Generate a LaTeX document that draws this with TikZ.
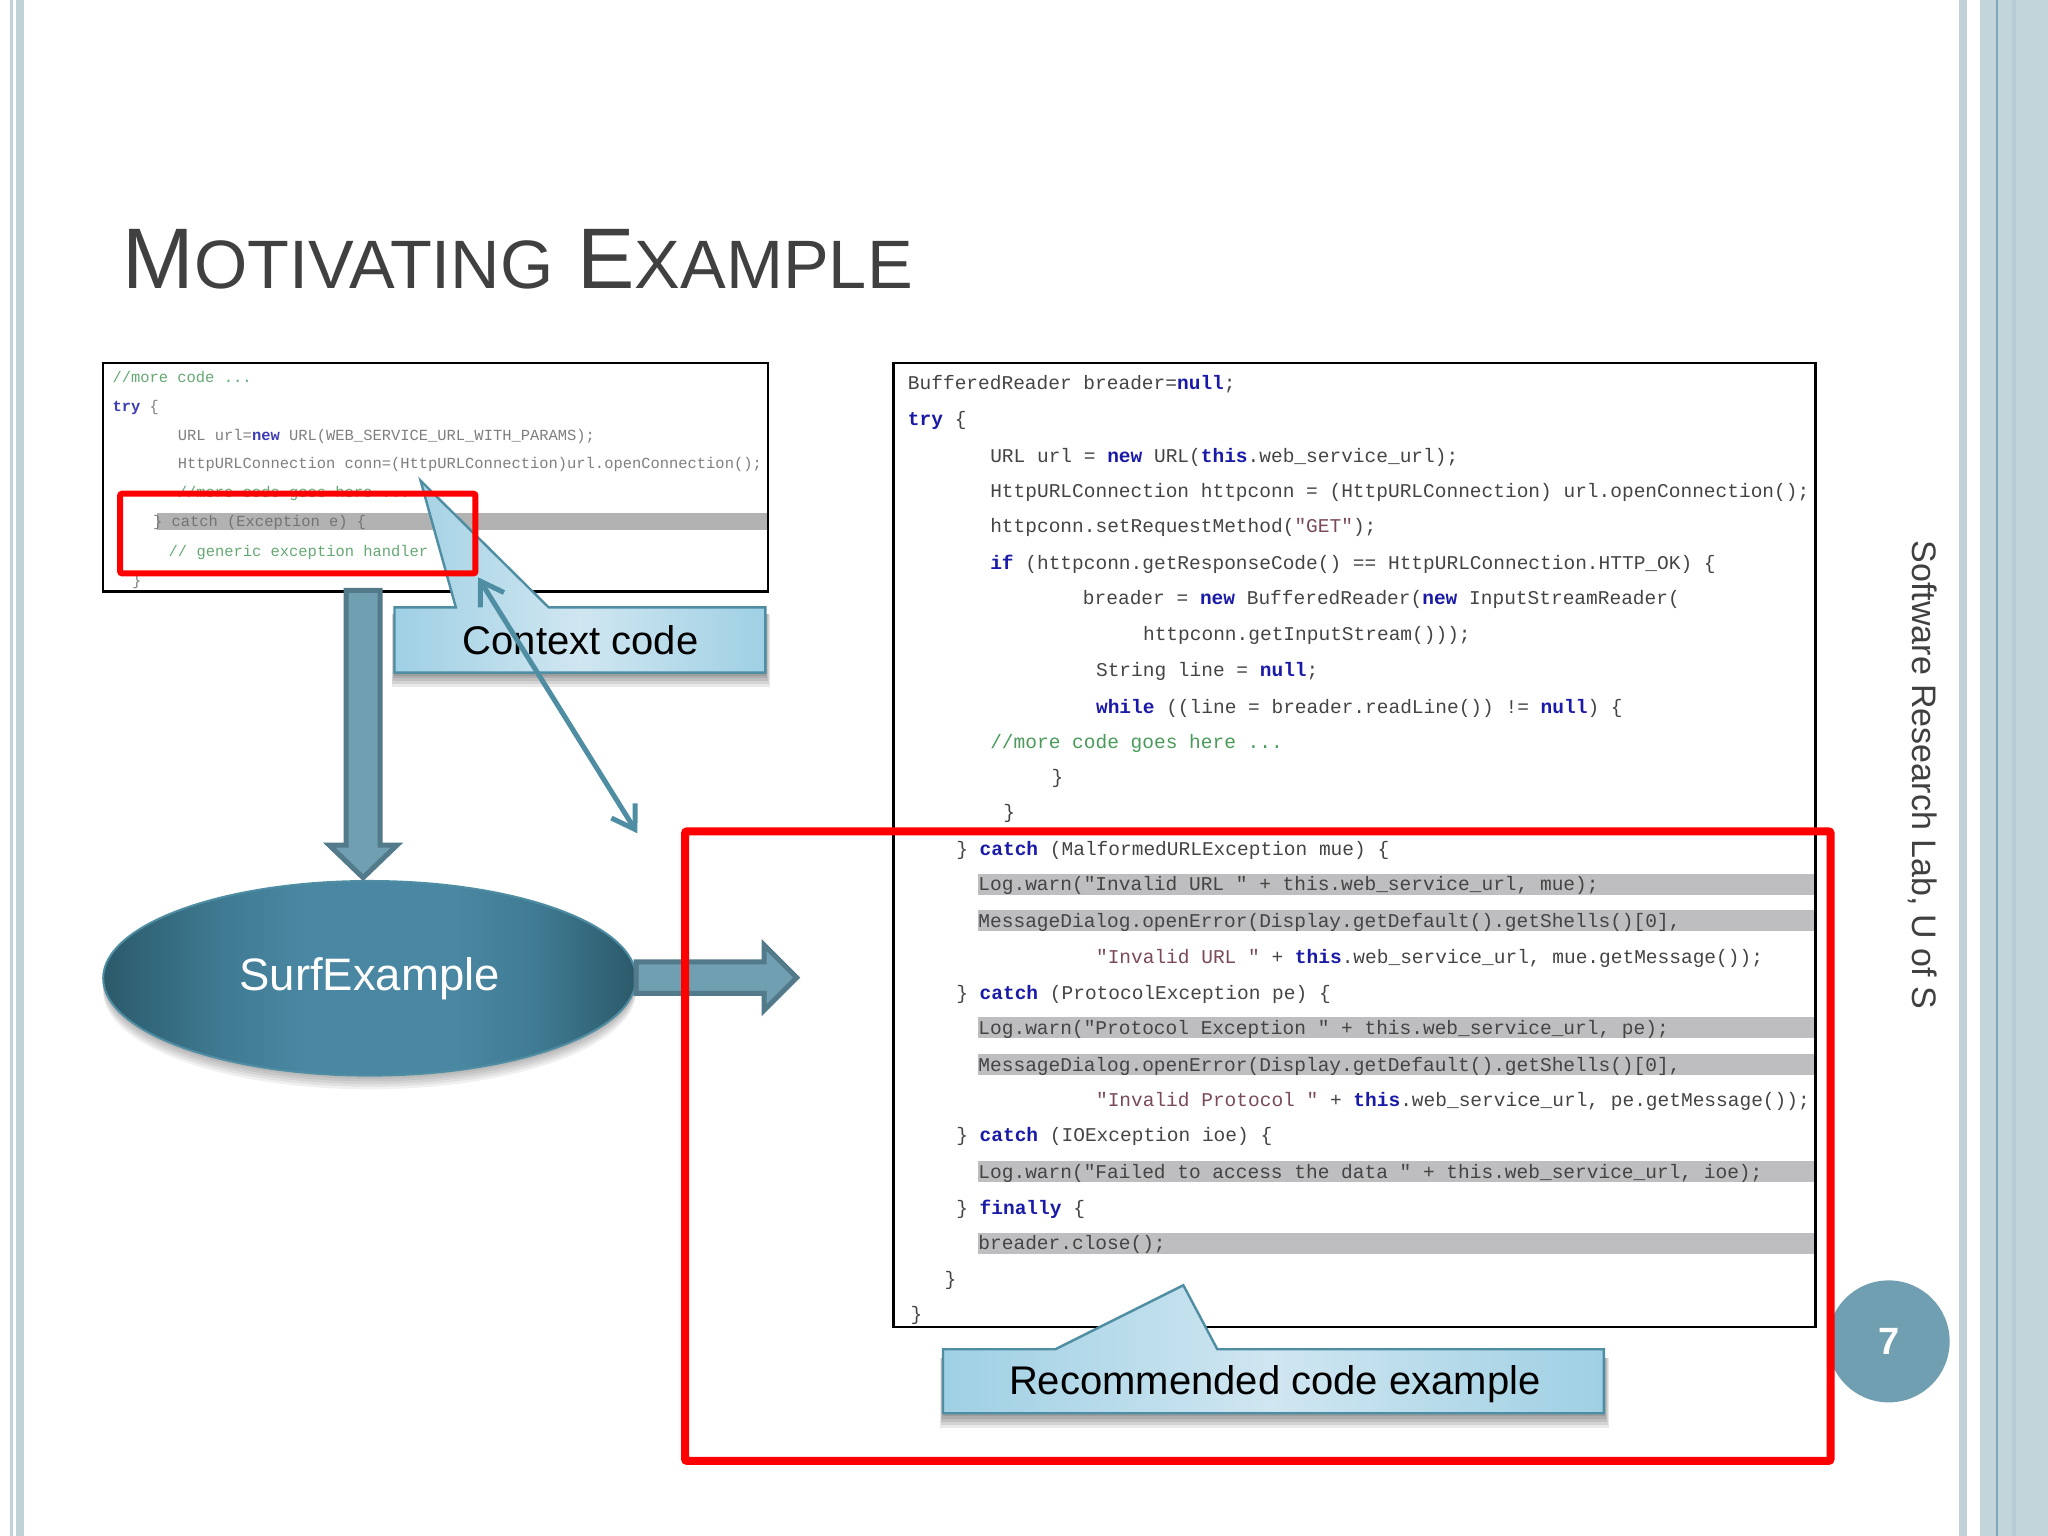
\documentclass[tikz,border=0pt]{standalone}
\usepackage{fontspec}
\setmainfont{Liberation Sans}
\newfontfamily\codefont{Liberation Mono}
\usetikzlibrary{shapes.geometric,arrows.meta,calc}
\definecolor{barc}{HTML}{C0D1D7}
\definecolor{bandc}{HTML}{C2D5DA}
\definecolor{bandd}{HTML}{B5CCD4}
\definecolor{bandl}{HTML}{7FA8BC}
\definecolor{teal1}{HTML}{6F9FB0}
\definecolor{teal2}{HTML}{527A8A}
\definecolor{teal3}{HTML}{4F8DA3}
\definecolor{ellE}{HTML}{2B5A6A}
\definecolor{ellF}{HTML}{3F7A92}
\definecolor{ellM}{HTML}{4A87A2}
\definecolor{calE}{HTML}{9FD0E4}
\definecolor{calM}{HTML}{D0E6F1}
\definecolor{greybar}{HTML}{BEBDBF}
\definecolor{kw}{HTML}{1A1AA8}
\definecolor{strc}{HTML}{7A4A5A}
\definecolor{cmt}{HTML}{4A9A5A}
\definecolor{codec}{HTML}{444444}
\definecolor{titlec}{HTML}{404040}
\pgfdeclarehorizontalshading{ellshade}{100bp}{color(0bp)=(ellE); color(25bp)=(ellE); color(36bp)=(ellF); color(44bp)=(ellM); color(58bp)=(ellM); color(66bp)=(ellF); color(75bp)=(ellE); color(100bp)=(ellE)}
\def\uu{1.30612pt}
\newcommand{\K}[1]{\textbf{\textcolor{kw}{#1}}}
\newcommand{\Q}[1]{\textcolor{strc}{#1}}
\newcommand{\Cm}[1]{\textcolor{cmt}{#1}}
\tikzset{
 codeR/.style={anchor=base west,inner sep=0pt,yshift=-1.3pt,font=\codefont\fontsize{19.5}{20}\selectfont,text=codec},
 codeL/.style={anchor=base west,inner sep=0pt,font=\codefont\fontsize{15.45}{16}\selectfont,text=codec!80,opacity=.85},
 codebox/.style={draw=black,line width=2.4pt,fill=white,inner sep=0pt,outer sep=0pt,anchor=north west},
 hl/.style={fill=greybar},
 redbox/.style={draw=red,line width=#1,rounded corners=2pt,inner sep=0pt,outer sep=0pt,anchor=north west},
 fatarrow/.style={fill=teal1,draw=teal2,line width=5pt,line join=miter},
 callout/.style={left color=calE,right color=calE,middle color=calM,draw=teal3,line width=2.4pt,line join=miter},
 calltext/.style={inner sep=0pt,font=\fontsize{40}{41}\selectfont,text=black},
 dblarrow/.style={draw=teal3,line width=5pt,{Straight Barb[length=22pt,width=28pt,line width=5pt]}-{Straight Barb[length=22pt,width=28pt,line width=5pt]}},
}
\begin{document}
\begin{tikzpicture}[x=1.30612pt,y=-1.30612pt]
\useasboundingbox (0,0) rectangle (1568,1176);
\fill[white] (0,0) rectangle (1568,1176);
% frame
\fill[barc] (7.7,0) rectangle (10.2,1176);
\fill[barc] (12,0) rectangle (18.4,1176);
\fill[barc] (1499.5,0) rectangle (1506,1176);
\fill[bandc] (1516,0) rectangle (1568,1176);
\fill[bandd] (1540.5,0) rectangle (1543.5,1176);
\draw[bandl,line width=1.6pt] (1529,0) -- (1529,1176);
% title
\node[anchor=base west,inner sep=0pt,text=titlec,font=\fontsize{86}{90}\selectfont] (title) at (94,221) {M{\fontsize{68.5}{70}\selectfont OTIVATING} E{\fontsize{68.5}{70}\selectfont XAMPLE}};
% side text
\node[rotate=-90,inner sep=0pt,text=titlec,font=\fontsize{34}{36}\selectfont] (side) at (1472,593.5) {Software Research Lab, U of S};
% page number
\node[circle,fill=teal1,minimum size=122pt,inner sep=0pt,text=white,font=\bfseries\fontsize{38}{40}\selectfont] (page) at (1446,1027) {\raisebox{-2.5pt}{7}};
% left code box
\node[codebox,minimum width=509*\uu,minimum height=175*\uu] (lbox) at (79,278) {};
\fill[black!30] (120,393) rectangle (587,406);
\node[codeL] (l1) at (86,293) {\Cm{//more code ...}};
\node[codeL] (l2) at (86,315) {\K{try} \{};
\node[codeL] (l3) at (136,337) {URL url=\K{new} URL(WEB\_SERVICE\_URL\_WITH\_PARAMS);};
\node[codeL] (l4) at (136,359) {HttpURLConnection conn=(HttpURLConnection)url.openConnection();};
\node[codeL] (l5) at (136,381) {\Cm{//more code goes here ...}};
\node[codeL] (l6) at (117,403) {\} catch (Exception e) \{};
\node[codeL] (l7) at (129,426) {\Cm{// generic exception handler}};
\node[codeL] (l8) at (101,448) {\}};
% right code box
\node[codebox,minimum width=706*\uu,minimum height=738*\uu] (rbox) at (684,278) {};
\foreach \yy in {677,705,787,815,897,952} \fill[hl] (749,\yy-8) rectangle (1389,\yy+8);
\node[codeR] (r1) at (695,297) {BufferedReader breader=\K{null};};
\node[codeR] (r2) at (695,325) {\K{try} \{};
\node[codeR] (r3) at (758,353) {URL url = \K{new} URL(\K{this}.web\_service\_url);};
\node[codeR] (r4) at (758,380) {HttpURLConnection httpconn = (HttpURLConnection) url.openConnection();};
\node[codeR] (r5) at (758,407) {httpconn.setRequestMethod(\Q{"GET"});};
\node[codeR] (r6) at (758,435) {\K{if} (httpconn.getResponseCode() == HttpURLConnection.HTTP\_OK) \{};
\node[codeR] (r7) at (829,462) {breader = \K{new} BufferedReader(\K{new} InputStreamReader(};
\node[codeR] (r8) at (875,489) {httpconn.getInputStream()));};
\node[codeR] (r9) at (839,517) {String line = \K{null};};
\node[codeR] (r10) at (839,545) {\K{while} ((line = breader.readLine()) != \K{null}) \{};
\node[codeR] (r11) at (758,572) {\Cm{//more code goes here ...}};
\node[codeR] (r12) at (805,599) {\}};
\node[codeR] (r13) at (768,626) {\}};
\node[codeR] (r14) at (732,654) {\} \K{catch} (MalformedURLException mue) \{};
\node[codeR] (r15) at (749,681) {Log.warn("Invalid URL " + this.web\_service\_url, mue);};
\node[codeR] (r16) at (749,709) {MessageDialog.openError(Display.getDefault().getShells()[0],};
\node[codeR] (r17) at (839,737) {\Q{"Invalid URL "} + \K{this}.web\_service\_url, mue.getMessage());};
\node[codeR] (r18) at (732,764) {\} \K{catch} (ProtocolException pe) \{};
\node[codeR] (r19) at (749,791) {Log.warn("Protocol Exception " + this.web\_service\_url, pe);};
\node[codeR] (r20) at (749,819) {MessageDialog.openError(Display.getDefault().getShells()[0],};
\node[codeR] (r21) at (839,846) {\Q{"Invalid Protocol "} + \K{this}.web\_service\_url, pe.getMessage());};
\node[codeR] (r22) at (732,873) {\} \K{catch} (IOException ioe) \{};
\node[codeR] (r23) at (749,901) {Log.warn("Failed to access the data " + this.web\_service\_url, ioe);};
\node[codeR] (r24) at (732,929) {\} \K{finally} \{};
\node[codeR] (r25) at (749,956) {breader.close();};
\node[codeR] (r26) at (723,983) {\}};
\node[codeR] (r27) at (697,1010) {\}};
% shadows
\foreach \d in {1,...,5} {
 \fill[black,opacity=.09] (302-\d*.4,470) rectangle (586+\d*.7,515+\d*2.2);
 \fill[black,opacity=.09] (722-\d*.4,1040) rectangle (1228+\d*.7,1082+\d*2.2);
 \fill[black,opacity=.06] (283,749+\d*2) ellipse [x radius=204,y radius=75];
}
% callouts
\path[callout] (302,465) -- (349,465) -- (322,368) -- (420,465) -- (586,465) -- (586,515) -- (302,515) -- cycle;
\node[calltext] (ctx) at (444.5,490) {Context code};
\path[callout] (722,1033) -- (808,1033) -- (906,984) -- (932,1033) -- (1228,1033) -- (1228,1082) -- (722,1082) -- cycle;
\node[calltext] (rec) at (976,1060) {Recommended code example};
% fat arrows and ellipse
\node[ellipse,minimum width=408*\uu,minimum height=149*\uu,inner sep=0pt,shading=ellshade,draw=teal3,line width=2pt,text=white,font=\fontsize{45.5}{46}\selectfont] (surf) at (283,749) {\raisebox{-6pt}{SurfExample}};
\coordinate (ds) at (278,452);
\coordinate (dt) at (278,672);
\draw[fatarrow] ($(ds)+(-13,0)$) -- ($(ds)+(13,0)$) -- ($(dt)+(13,-25)$) -- ($(dt)+(26,-25)$) -- (dt) -- ($(dt)+(-26,-25)$) -- ($(dt)+(-13,-25)$) -- cycle;
\coordinate (rs) at (487,748.5);
\coordinate (rt) at (610,748.5);
\draw[fatarrow] ($(rs)+(0,-12)$) -- ($(rt)+(-25,-12)$) -- ($(rt)+(-25,-25)$) -- (rt) -- ($(rt)+(-25,25)$) -- ($(rt)+(-25,12)$) -- ($(rs)+(0,12)$) -- cycle;
% double arrow
\coordinate (da) at (366,442);
\coordinate (db) at (488,638);
\draw[dblarrow] (da) -- (db);
% red boxes
\node[redbox=6pt,minimum width=272*\uu,minimum height=61*\uu] (red1) at (92,378) {};
\node[redbox=8pt,minimum width=877*\uu,minimum height=482*\uu] (red2) at (524.5,636.5) {};
\end{tikzpicture}
\end{document}
